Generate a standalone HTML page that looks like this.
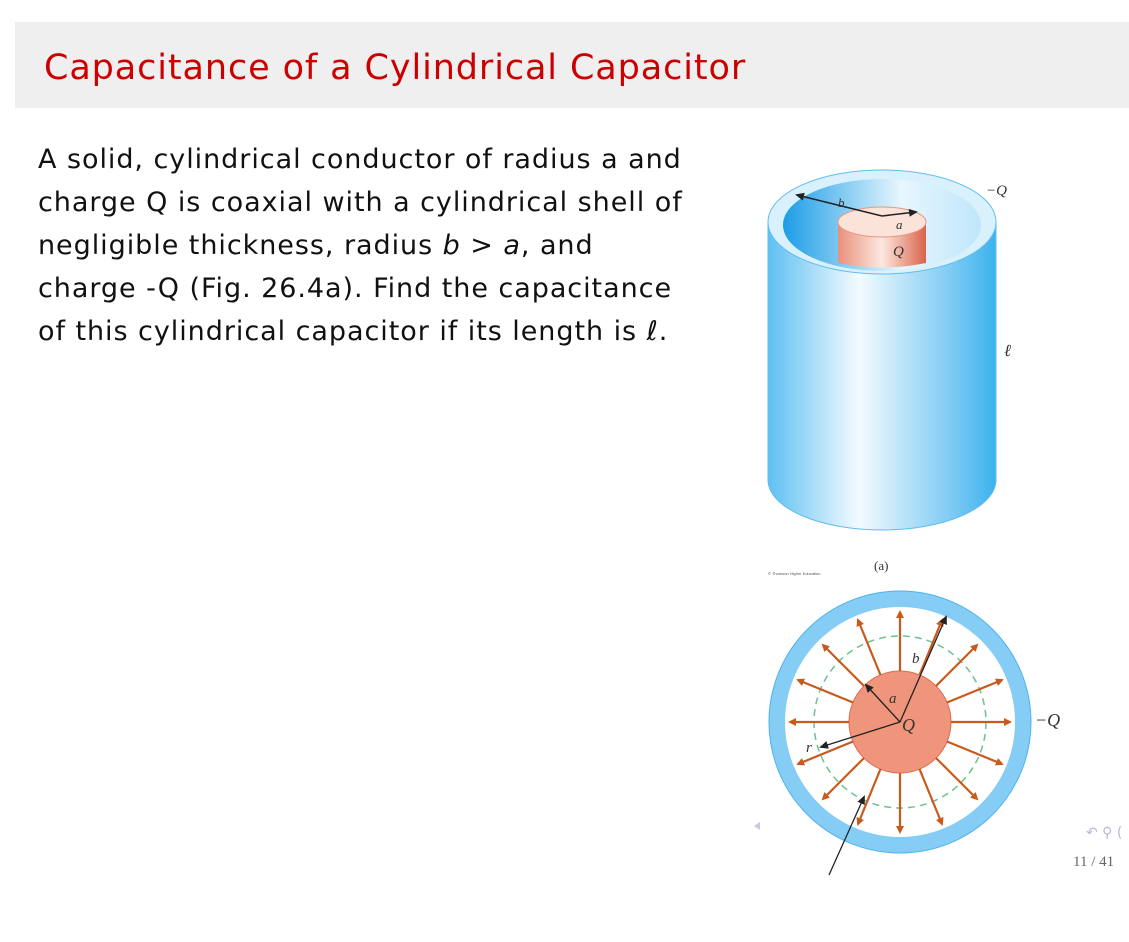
<!DOCTYPE html>
<html><head><style>
body{margin:0;width:1129px;height:942px;background:#fff;position:relative;overflow:hidden;font-family:"DejaVu Sans","Liberation Sans",sans-serif;}
.hdr{position:absolute;left:15px;top:22px;width:1114px;height:86px;background:#efefef;}
.title{position:absolute;left:44px;top:48px;font-size:35px;letter-spacing:0.9px;color:#cc0000;white-space:nowrap;}
.body{position:absolute;left:38px;top:138px;font-size:27px;letter-spacing:0.95px;line-height:43px;color:#111;white-space:nowrap;}
svg{position:absolute;left:0;top:0;}
</style></head><body>
<div class="hdr"></div>
<div class="title">Capacitance of a Cylindrical Capacitor</div>
<div class="body">A solid, cylindrical conductor of radius a and<br>charge Q is coaxial with a cylindrical shell of<br>negligible thickness, radius <i>b</i> &gt; <i>a</i>, and<br>charge -Q (Fig. 26.4a). Find the capacitance<br>of this cylindrical capacitor if its length is <i>ℓ</i>.</div>
<svg width="1129" height="942" xmlns="http://www.w3.org/2000/svg">
<defs>
<linearGradient id="cyl" x1="0" x2="1"><stop offset="0" stop-color="#5ec0f2"/><stop offset="0.4" stop-color="#f4fbff"/><stop offset="0.8" stop-color="#7fcbf3"/><stop offset="1" stop-color="#3ab3ee"/></linearGradient>
<linearGradient id="inn" x1="0" x2="1"><stop offset="0" stop-color="#1c9de6"/><stop offset="0.6" stop-color="#e8f6fe"/><stop offset="1" stop-color="#bfe6fb"/></linearGradient>
<linearGradient id="rod" x1="0" x2="1"><stop offset="0" stop-color="#e8907a"/><stop offset="0.5" stop-color="#fde8e0"/><stop offset="1" stop-color="#d9634a"/></linearGradient>
<marker id="ao" markerWidth="8" markerHeight="8" refX="6" refY="4" orient="auto" markerUnits="userSpaceOnUse"><path d="M0,0 L8,4 L0,8z" fill="#c85a1e"/></marker>
<marker id="ak" markerWidth="9" markerHeight="8" refX="7" refY="4" orient="auto" markerUnits="userSpaceOnUse"><path d="M0,0 L9,4 L0,8z" fill="#222"/></marker>
</defs>
<path d="M768,222 L768,480 A114,50 0 0 0 996,480 L996,222 Z" fill="url(#cyl)" stroke="#5fbdf0"/>
<ellipse cx="882" cy="222" rx="114" ry="52" fill="#d9f1fd" stroke="#5fbdf0"/>
<ellipse cx="882" cy="225" rx="99" ry="46" fill="url(#inn)"/>
<path d="M838,222 L838,263 Q882,272 926,263 L926,222 Z" fill="url(#rod)"/>
<ellipse cx="882" cy="222" rx="44" ry="15" fill="#fbe3da" stroke="#e59a85"/>
<line x1="882" y1="216" x2="797" y2="195" stroke="#222" stroke-width="1.5" marker-end="url(#ak)"/>
<line x1="882" y1="216" x2="916" y2="212" stroke="#222" stroke-width="1.5" marker-end="url(#ak)"/>
<text x="874" y="570" font-family="Liberation Serif,serif" font-size="13" fill="#333">(a)</text>
<text x="768" y="575" font-family="Liberation Sans,sans-serif" font-size="4" fill="#555">© Thomson Higher Education</text>
<circle cx="900" cy="722" r="123" fill="none" stroke="#86cdf6" stroke-width="16"/>
<circle cx="900" cy="722" r="131" fill="none" stroke="#4cb2ee" stroke-width="1"/>
<circle cx="900" cy="722" r="86" fill="none" stroke="#6cc28e" stroke-width="1.5" stroke-dasharray="7,5"/>
<circle cx="900" cy="722" r="51" fill="#ee957b" stroke="#e06a50"/>
<g stroke="#c85a1e" stroke-width="2.2" marker-end="url(#ao)">
<line x1="951" y1="722" x2="1010" y2="722"/>
<line x1="947" y1="741.5" x2="1002" y2="764"/>
<line x1="936" y1="758" x2="977" y2="799"/>
<line x1="919.5" y1="769" x2="942" y2="824"/>
<line x1="900" y1="773" x2="900" y2="832"/>
<line x1="880.5" y1="769" x2="858" y2="824"/>
<line x1="864" y1="758" x2="823" y2="799"/>
<line x1="853" y1="741.5" x2="798" y2="764"/>
<line x1="849" y1="722" x2="790" y2="722"/>
<line x1="853" y1="702.5" x2="798" y2="680"/>
<line x1="864" y1="686" x2="823" y2="645"/>
<line x1="880.5" y1="675" x2="858" y2="620"/>
<line x1="900" y1="671" x2="900" y2="612"/>
<line x1="919.5" y1="675" x2="942" y2="620"/>
<line x1="936" y1="686" x2="977" y2="645"/>
<line x1="947" y1="702.5" x2="1002" y2="680"/>
</g>
<g stroke="#222" stroke-width="1.3" marker-end="url(#ak)">
<line x1="900" y1="722" x2="946" y2="617"/>
<line x1="900" y1="722" x2="866" y2="685"/>
<line x1="900" y1="722" x2="821" y2="747"/>
<line x1="829" y1="875" x2="864" y2="797"/>
</g>
<g font-family="Liberation Serif,serif" font-style="italic" fill="#333">
<text x="838" y="207" font-size="13">b</text>
<text x="896" y="229" font-size="13">a</text>
<text x="893" y="256" font-size="15">Q</text>
<text x="986" y="195" font-size="15">−Q</text>
<text x="1004" y="356" font-size="17">ℓ</text>
<text x="902" y="731" font-size="18">Q</text>
<text x="1035" y="726" font-size="18">−Q</text>
<text x="912" y="663" font-size="15">b</text>
<text x="889" y="703" font-size="15">a</text>
<text x="806" y="752" font-size="15">r</text>
</g>
<path d="M760,830 l-6,-4 l6,-4z" fill="#c8c8e0"/>
<text x="1086" y="837" font-family="DejaVu Sans,sans-serif" font-size="14" fill="#b8b8d8">↶ ⚲ (</text>
<text x="1073" y="866" font-family="Liberation Serif,serif" font-size="15" fill="#666">11 / 41</text>
</svg>
</body></html>
